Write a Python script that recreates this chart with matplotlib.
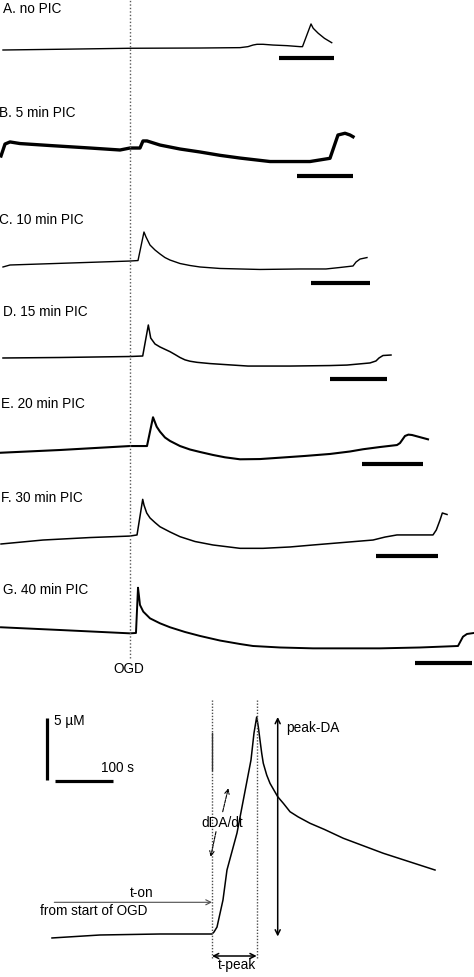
import matplotlib
matplotlib.use("Agg")
import matplotlib.pyplot as plt

plt.rcParams['font.family'] = ['Liberation Sans', 'DejaVu Sans']

# ---------------- data (time in s from OGD onset, DA change in µM) ----------------
labels = ["A. no PIC", "B. 5 min PIC", "C. 10 min PIC", "D. 15 min PIC",
          "E. 20 min PIC", "F. 30 min PIC", "G. 40 min PIC"]

a_time = [-219.0, -120.7, 0, 120.7, 189.7, 203.4, 212.1, 219.0, 229.3, 246.6, 270.7, 293.1,
          297.4, 312.1, 315.9, 324.5, 335.3, 347.8]
a_da = [0, 0.06, 0.14, 0.16, 0.19, 0.27, 0.40, 0.46, 0.46, 0.40, 0.35, 0.27,
        0.27, 2.10, 1.75, 1.35, 0.94, 0.59]

b_time = [-222.4, -215.5, -206.9, -189.7, -137.9, -69.0, -17.2, 0, 17.2, 22.4, 29.3, 51.7,
          86.2, 120.7, 155.2, 189.7, 241.4, 310.3, 344.8, 351.7, 358.6, 370.7, 379.3, 384.5]
b_da = [-0.48, 0.48, 0.65, 0.52, 0.36, 0.16, 0, 0.16, 0.16, 0.73, 0.73, 0.40,
        0.08, -0.16, -0.43, -0.65, -0.93, -0.93, -0.67, 0.27, 1.21, 1.35, 1.21, 1.07]

c_time = [-219.0, -206.9, -103.4, 0, 13.8, 24.1, 27.6, 34.5, 43.1, 51.7, 60.3, 69.0, 86.2,
          103.4, 120.7, 155.2, 189.7, 224.1, 293.1, 337.9, 362.1, 384.5, 389.7, 396.6, 408.6]
c_da = [-0.16, 0, 0.16, 0.32, 0.36, 2.66, 2.26, 1.61, 1.21, 0.89, 0.60, 0.40, 0.12,
        -0.04, -0.16, -0.28, -0.32, -0.36, -0.32, -0.32, -0.20, -0.08, 0.24, 0.48, 0.60]

d_time = [-219.0, -120.7, 0, 21.9, 31.6, 35.7, 43.1, 51.7, 60.3, 69.0, 77.6, 86.2, 94.8,
          103.4, 115.5, 137.9, 163.8, 203.4, 275.9, 344.8, 374.1, 413.8, 424.1, 429.3, 436.2, 450.0]
d_da = [-0.08, -0.04, 0.04, 0.08, 2.58, 1.53, 1.05, 0.81, 0.62, 0.43, 0.20, -0.04, -0.23,
        -0.34, -0.43, -0.53, -0.61, -0.73, -0.73, -0.69, -0.65, -0.48, -0.32, -0.08, 0.12, 0.16]

e_time = [-222.4, -120.7, 0, 29.3, 39.7, 46.0, 51.7, 60.3, 69.0, 86.2, 103.4, 120.7, 143.1,
          163.8, 189.7, 224.1, 258.6, 301.7, 344.8, 379.3, 401.7, 431.0, 460.3, 465.5, 474.1,
          480.0, 486.2, 513.8]
e_da = [-0.22, 0, 0.32, 0.32, 2.64, 1.88, 1.48, 1.01, 0.73, 0.32, 0.04, -0.16, -0.40,
        -0.59, -0.75, -0.73, -0.62, -0.48, -0.32, -0.12, 0.06, 0.24, 0.40, 0.56, 1.13,
        1.24, 1.21, 0.86]

f_time = [-222.4, -150.0, -69.0, 0, 12.1, 21.9, 24.1, 28.8, 34.5, 43.1, 51.7, 69.0, 86.2,
          112.1, 143.1, 189.7, 229.3, 275.9, 315.5, 367.2, 419.0, 439.7, 460.3, 522.4, 528.1,
          534.5, 538.5, 546.6]
f_da = [-0.08, 0.24, 0.44, 0.56, 0.65, 3.52, 3.06, 2.42, 2.02, 1.65, 1.31, 0.89, 0.51,
        0.12, -0.16, -0.43, -0.43, -0.32, -0.16, 0.04, 0.24, 0.48, 0.65, 0.65, 1.05,
        1.85, 2.42, 2.30]

g_time = [-222.4, -120.7, 0, 10.3, 13.8, 15.5, 17.2, 22.9, 34.5, 51.7, 69.0, 94.8, 120.7,
          155.2, 189.7, 212.1, 258.6, 315.5, 431.0, 500.0, 565.5, 574.1, 581.0, 593.1]
g_da = [0.22, 0, -0.27, -0.24, 3.41, 2.74, 2.02, 1.48, 0.94, 0.54, 0.22, -0.16, -0.48,
        -0.85, -1.13, -1.29, -1.41, -1.48, -1.48, -1.41, -1.29, -0.54, -0.32, -0.24]

# time windows marked by the black bars (s)
bar_start = [256.9, 287.9, 311.6, 344.8, 400.5, 423.6, 491.4]
bar_end = [351.7, 384.5, 413.8, 442.6, 504.6, 531.5, 589.1]

# schematic trace (bottom)
sch_time = [-134.5, -51.7, 51.7, 141.4, 144.8, 150.0, 160.3, 167.2, 184.5, 208.6, 213.8,
            218.4, 221.2, 224.1, 227.1, 229.8, 235.7, 241.4, 254.7, 264.7, 275.9, 289.7,
            310.3, 335.3, 367.8, 436.7, 525.9]
sch_da = [-0.32, -0.08, 0, 0, 0.16, 0.56, 2.74, 5.16, 8.15, 14.03, 16.21,
          17.50, 16.72, 15.65, 14.57, 13.77, 12.82, 12.15, 11.07, 10.52, 9.86, 9.45,
          8.93, 8.43, 7.72, 6.51, 5.16]

scale_da = 5      # µM
scale_time = 100  # s

# ---------------- layout ----------------
W, H = 474, 977
PX_PER_S = 0.58
PX_PER_UM = 12.4
OGD_PX = 130


def dx(xpx):
    return (xpx - OGD_PX) / PX_PER_S


def dy(ypx):
    return (H - ypx) / PX_PER_UM


fig = plt.figure(figsize=(W / 100, H / 100), dpi=100)
ax = fig.add_axes([0, 0, 1, 1])
ax.set_xlim(dx(0), dx(W))
ax.set_ylim(dy(H), dy(0))
ax.axis('off')

traces = [(a_time, a_da), (b_time, b_da), (c_time, c_da), (d_time, d_da),
          (e_time, e_da), (f_time, f_da), (g_time, g_da)]
baseline_px = [50, 150, 265, 357, 450, 543, 630]
widths = [1.0, 2.4, 1.0, 1.1, 1.5, 1.1, 1.4]
bar_px = [57.7, 175.7, 283.3, 379.3, 464, 556, 663.3]
label_x = [3, -1, -1, 2.7, 1, 1, 3.3]
label_y = [12.7, 117, 224.3, 316, 408.3, 501.7, 594.3]
FS = 9.8

for (t, v), base, lw, by, lx, ly, lab, s0, s1 in zip(
        traces, baseline_px, widths, bar_px, label_x, label_y, labels, bar_start, bar_end):
    off = dy(base)
    ax.plot(t, [off + val for val in v], color='black', lw=lw, solid_joinstyle='round')
    ax.plot([s0, s1], [dy(by), dy(by)], color='black', lw=3.0, solid_capstyle='butt')
    fig.text(lx / W, 1 - ly / H, lab, fontsize=FS, ha='left', va='baseline')

# OGD dotted line
ax.axvline(0, ymin=(H - 658) / H, ymax=1, color='0.35', ls=(0, (1, 1.5)), lw=1.0)
fig.text(128.3 / W, 1 - 672.7 / H, "OGD", fontsize=FS, ha='center', va='baseline')

# scale bars
sb_x = dx(47.3)
sb_y = dy(780)
ax.plot([sb_x, sb_x], [sb_y, sb_y + scale_da], color='black', lw=2.3, solid_capstyle='butt')
hb_x = dx(55)
hb_y = dy(781)
ax.plot([hb_x, hb_x + scale_time], [hb_y, hb_y], color='black', lw=2.3, solid_capstyle='butt')
fig.text(54.3 / W, 1 - 725 / H, "5 µM", fontsize=FS, ha='left', va='baseline')
fig.text(101 / W, 1 - 772.3 / H, "100 s", fontsize=FS, ha='left', va='baseline')

# schematic
sch_off = dy(934)
ax.plot(sch_time, [sch_off + v for v in sch_da], color='black', lw=1.1, solid_joinstyle='round')
t_on = sch_time[3]
t_pk = sch_time[sch_da.index(max(sch_da))]
for tt in (t_on, t_pk):
    ax.plot([tt, tt], [dy(958), dy(700)], color='0.3', ls=(0, (1, 1.2)), lw=1.0)
ax.plot([t_on, t_on], [dy(770), dy(733)], color='0.2', lw=1.0)

arrow_kw = dict(arrowstyle='<->', lw=1.1, color='black', mutation_scale=9, shrinkA=0, shrinkB=0)
# peak-DA
pk_x = dx(277.7)
ax.annotate('', xy=(pk_x, sch_off + max(sch_da)), xytext=(pk_x, sch_off - 0.2),
            arrowprops=arrow_kw)
fig.text(286 / W, 1 - 732 / H, "peak-DA", fontsize=FS, ha='left', va='baseline')
# t-peak
ax.annotate('', xy=(t_pk, dy(956)), xytext=(t_on, dy(956)), arrowprops=arrow_kw)
fig.text(237.2 / W, 1 - 969 / H, "t-peak", fontsize=FS, ha='center', va='baseline')
# t-on
ax.annotate('', xy=(t_on, dy(902.3)), xytext=(dx(54.3), dy(902.3)),
            arrowprops=dict(arrowstyle='->', lw=0.8, color='0.3', mutation_scale=9,
                            shrinkA=0, shrinkB=0))
fig.text(142 / W, 1 - 896.7 / H, "t-on", fontsize=FS, ha='center', va='baseline')
fig.text(40 / W, 1 - 915 / H, "from start of OGD", fontsize=FS, ha='left', va='baseline')
# dDA/dt
thin = dict(arrowstyle='->', lw=0.8, color='black', mutation_scale=8,
            shrinkA=0, shrinkB=0, linestyle=(0, (3, 1)))
ax.annotate('', xy=(dx(228.3), dy(788.3)), xytext=(dx(222.7), dy(811.7)), arrowprops=thin)
ax.annotate('', xy=(dx(210.7), dy(856.7)), xytext=(dx(216), dy(831.7)), arrowprops=thin)
fig.text(222 / W, 1 - 826.7 / H, "dDA/dt", fontsize=FS, ha='center', va='baseline')

fig.savefig("out.png", dpi=100)
